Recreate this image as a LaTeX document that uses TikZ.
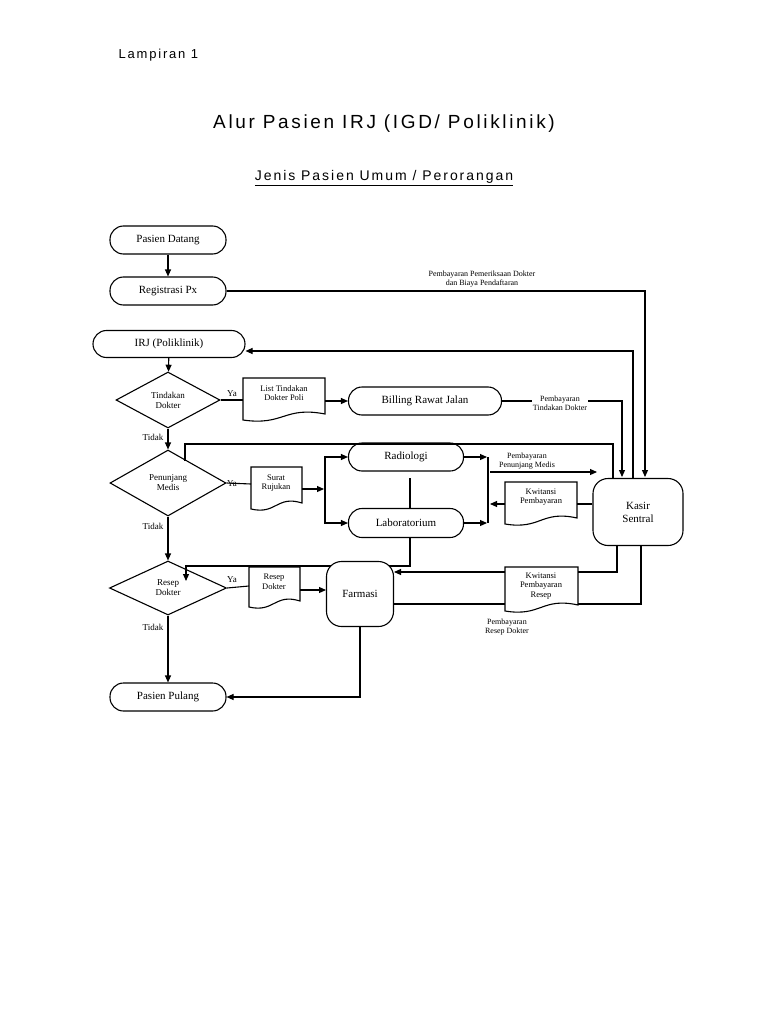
\documentclass[tikz,border=0pt]{standalone}
\usepackage{fontspec}
\setmainfont{Liberation Serif}
\newfontfamily\hd[LetterSpace=14]{Liberation Sans}
\usetikzlibrary{shapes.geometric,arrows.meta}
\begin{document}
\begin{tikzpicture}[x=1pt,y=-1pt,line width=1.1pt,
  >={Triangle[length=7pt,width=6pt]},
  pill/.style={draw,rounded corners=13.5pt,minimum width=116pt,minimum height=28pt,font=\fontsize{11}{12}\selectfont,fill=white},
  dia/.style={draw,diamond,aspect=2,inner sep=0pt,font=\fontsize{9}{10}\selectfont,align=center,fill=white},
  docbox/.style={inner sep=0pt,font=\fontsize{8.5}{9.5}\selectfont,align=center},
  lbl/.style={font=\fontsize{8}{9}\selectfont,align=center,inner sep=1pt},
  blk/.style={draw,rounded corners=15pt,fill=white,font=\fontsize{11}{13}\selectfont,align=center}]
\useasboundingbox (0,0) rectangle (768,1024);
\fill[white] (0,0) rectangle (768,1024);
\newcommand\mydoc[5]{% name, x1,y1,x2,y2
  \coordinate (#1-nw) at (#2,#3);\coordinate (#1-se) at (#4,#5);
  \draw[fill=white] (#2,#3) -- (#4,#3) -- (#4,#5-4) .. controls ({(#2+#4)/2},#5-12) and ({(#2+#4)/2},#5+8) .. (#2,#5+2) -- cycle;}
% headers
\node[font=\hd\fontsize{13}{15}\selectfont,anchor=west,inner sep=0pt] (lamp) at (118,55) {Lampiran 1};
\node[font=\hd\fontsize{19}{22}\selectfont] (title) at (384,124) {Alur Pasien IRJ (IGD/ Poliklinik)};
\node[font=\hd\fontsize{14}{16}\selectfont] (sub) at (384,178) {\underline{Jenis Pasien Umum / Perorangan}};
% left column
\node[pill] (datang) at (168,240) {Pasien Datang};
\node[pill] (reg) at (168,291) {Registrasi Px};
\node[pill,minimum width=152pt,minimum height=27pt] (irj) at (169,344) {IRJ (Poliklinik)};
\node[dia,minimum width=104pt,minimum height=56pt] (tind) at (168,400) {Tindakan\\Dokter};
\node[dia,minimum width=116pt,minimum height=66pt] (pen) at (168,483) {Penunjang\\Medis};
\node[dia,minimum width=117pt,minimum height=54pt] (resep) at (168,588) {Resep\\Dokter};
\node[pill] (pulang) at (168,697) {Pasien Pulang};
% documents
\mydoc{list}{243}{378}{325}{418}
\node[docbox] (listt) at (284,393) {List Tindakan\\Dokter Poli};
\mydoc{surat}{251}{467}{302}{507}
\node[docbox] (surt) at (276,483) {Surat\\Rujukan};
\mydoc{rd}{249}{567}{300}{605}
\node[docbox] (rdt) at (274,582) {Resep\\Dokter};
\mydoc{kw}{505}{482}{577}{522}
\node[docbox] (kwt) at (541,497) {Kwitansi\\Pembayaran};
% right blocks
\node[pill,minimum width=153pt] (bill) at (425,401) {Billing Rawat Jalan};
\node[pill,minimum width=115pt] (rad) at (406,457) {Radiologi};
\node[pill,minimum width=115pt,minimum height=29pt] (lab) at (406,523) {Laboratorium};
\node[blk,minimum width=90pt,minimum height=67pt] (kasir) at (638,512) {Kasir\\Sentral};
% connectors
\draw[->] (datang) -- (reg);
\draw[->] (reg.east) -- (645,291) -- (645,477);
\node[lbl] (l1) at (482,279) {Pembayaran Pemeriksaan Dokter\\dan Biaya Pendaftaran};
\draw[->] (633,478) -- (633,351) -- (irj.east |- 0,351);
\draw[->] (irj) -- (tind);
\draw (tind.east) -- (243,400);
\node[lbl,font=\fontsize{9}{10}\selectfont] (ya1) at (232,394) {Ya};
\draw[->] (325,401) -- (bill.west);
\draw[->] (bill.east) -- (622,401) -- (622,477);
\node[lbl,fill=white] (l2) at (560,403) {Pembayaran\\Tindakan Dokter};
\draw[->] (tind) -- (pen);
\node[lbl,font=\fontsize{9}{10}\selectfont] (t1) at (153,437) {Tidak};
\draw (185,461) -- (185,444) -- (613,444) -- (613,478);
\draw (pen.east) -- (251,484);
\node[lbl,font=\fontsize{9}{10}\selectfont] (ya2) at (232,484) {Ya};
\draw[->] (302,489) -- (324,489);
\draw[->] (325,489) -- (325,457) -- (rad.west);
\draw[->] (325,489) -- (325,523) -- (lab.west);
\draw (410,478) -- (410,508);
\draw[->] (rad.east) -- (487,457);
\draw[->] (lab.east) -- (487,523);
\draw (488,457) -- (488,523);
\draw[->] (490,472) -- (597,472);
\node[lbl] (l3) at (527,461) {Pembayaran\\Penunjang Medis};
\draw (kasir.west |- 0,504) -- (577,504);
\draw[->] (505,504) -- (490,504);
\draw[->] (pen) -- (resep);
\node[lbl,font=\fontsize{9}{10}\selectfont] (t2) at (153,526) {Tidak};
\draw[->] (lab.south -| 410,0) -- (410,566) -- (186,566) -- (186,581);
\draw (resep.east) -- (249,586);
\node[lbl,font=\fontsize{9}{10}\selectfont] (ya3) at (232,580) {Ya};
\draw[->] (300,590) -- (326,590);
\mydoc{kr}{505}{567}{578}{609}
\node[docbox] (krt) at (541,586) {Kwitansi\\Pembayaran\\Resep};
\draw (617,545) -- (617,572) -- (578,572);
\node[blk,minimum width=67pt,minimum height=65pt] (farm) at (360,594) {Farmasi};
\draw[->] (505,572) -- (394,572);
\draw (393,604) -- (505,604);
\draw (578,604) -- (641,604) -- (641,545);
\node[lbl] (l4) at (507,627) {Pembayaran\\Resep Dokter};
\draw[->] (resep) -- (pulang);
\node[lbl,font=\fontsize{9}{10}\selectfont] (t3) at (153,627) {Tidak};
\draw[->] (farm.south) -- (360,697) -- (pulang.east);
\end{tikzpicture}
\end{document}
